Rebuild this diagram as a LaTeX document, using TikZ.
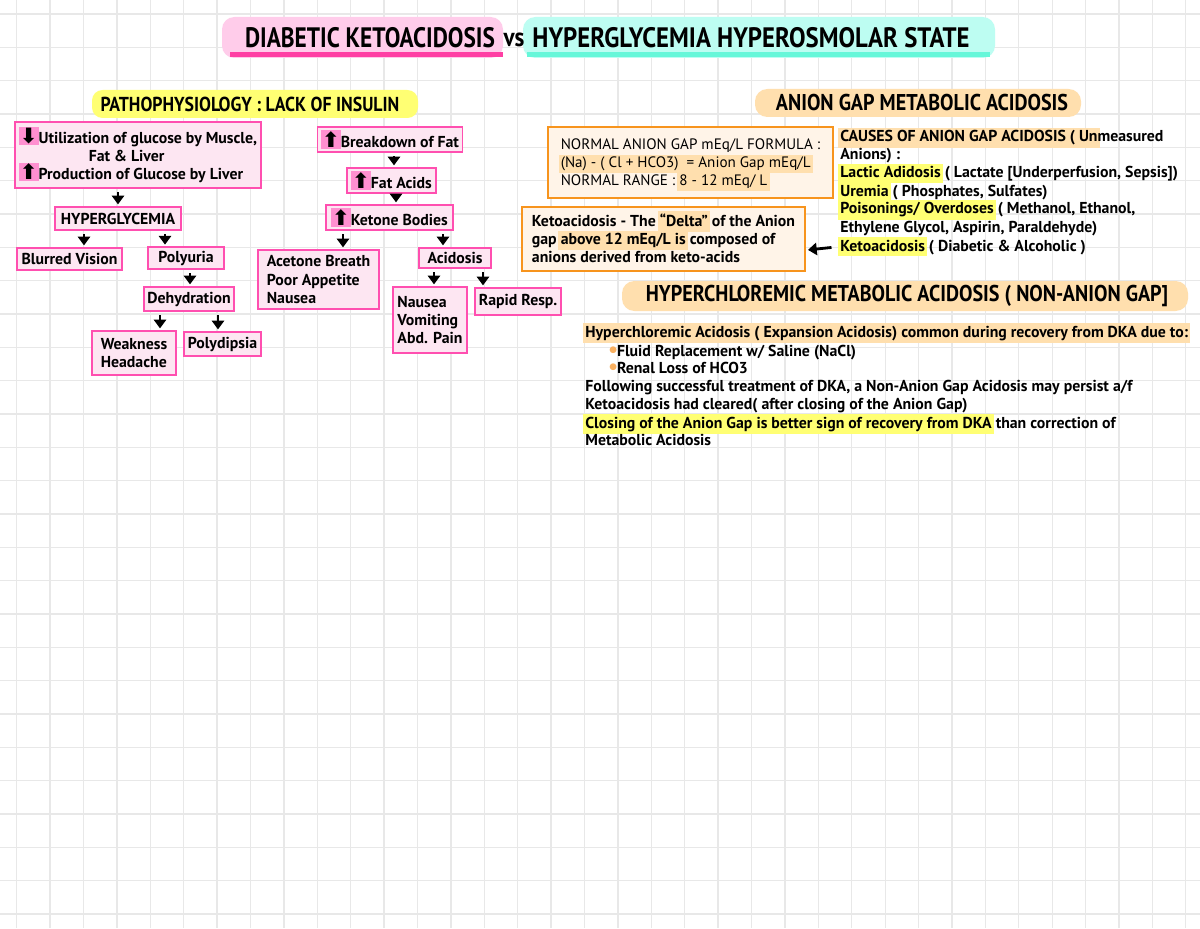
\documentclass[tikz,border=0pt]{standalone}
\usepackage{fontspec}
\setmainfont{PT Sans}
\newfontfamily\headfont{PT Sans}[FakeStretch=0.88]
\newfontfamily\headnarrow{PT Sans}[FakeStretch=0.83]
\newfontfamily\symfont{DejaVu Sans}
\usepackage{xcolor}
\usetikzlibrary{arrows.meta,positioning,calc}

\definecolor{gridc}{HTML}{E8E8E8}
\definecolor{pinkline}{HTML}{FF4FB0}
\definecolor{pinkfill}{HTML}{FDE6F2}
\definecolor{pinkmark}{HTML}{FF8FD0}
\definecolor{pinkhl}{HTML}{FFCCEA}
\definecolor{pinkbar}{HTML}{FF3FA4}
\definecolor{aquahl}{HTML}{BDFDF2}
\definecolor{aquabar}{HTML}{66F7D9}
\definecolor{yelhl}{HTML}{FFFF73}
\definecolor{peach}{HTML}{FFDFAE}
\definecolor{peachfill}{HTML}{FFF4E8}
\definecolor{orangeline}{HTML}{F7941D}
\definecolor{bulletc}{HTML}{F9B060}

\newcommand\boxfont{\fontsize{9}{10.3}\selectfont\bfseries}
\newcommand\hlt[2]{{\setlength{\fboxsep}{1.3pt}\hspace*{-\fboxsep}\smash{\colorbox{#1}{\vphantom{Ap}#2}}\hspace*{-\fboxsep}}}
\newcommand\dnmark{{\setlength{\fboxsep}{0.6pt}\colorbox{pinkmark}{\symfont\bfseries\large ⬇}}}
\newcommand\upmark{{\setlength{\fboxsep}{0.6pt}\colorbox{pinkmark}{\symfont\bfseries\large ⬆}}}
\newcommand\bul{\raisebox{2pt}{\color{bulletc}\symfont\fontsize{5}{5}\selectfont ●}}

\begin{document}
\begin{tikzpicture}[
  x=0.2mm, y=-0.2mm,
  >=Stealth,
  gridline/.style={draw=gridc,line width=0.7pt},
  pbox/.style={draw=pinkline,fill=pinkfill,line width=1pt,inner sep=2pt,align=left,font=\boxfont},
  obox/.style={draw=orangeline,fill=peachfill,line width=1.4pt,inner sep=4pt,align=left,font=\boxfont},
  flow/.style={-{Triangle[length=5pt,width=7pt]},line width=1.6pt,shorten <=2pt,shorten >=1pt},
  head/.style={font=\headfont\bfseries,inner sep=0pt},
  txt/.style={anchor=base west,inner sep=0pt,font=\boxfont},
]
  \useasboundingbox (0,0) rectangle (1200,928);
  \fill[white] (0,0) rectangle (1200,928);
  % grid paper
  \foreach \i in {0,...,35}
    \draw[gridline] (16.7+33.4*\i,0) -- (16.7+33.4*\i,928);
  \foreach \j in {0,...,27}
    \draw[gridline] (0,14+33.33*\j) -- (1200,14+33.33*\j);

  % title
  \fill[pinkhl,rounded corners=7pt] (222,17) rectangle (503,58);
  \fill[pinkbar] (230,52) rectangle (503,57);
  \fill[aquahl,rounded corners=7pt] (523,17) rectangle (995,58);
  \fill[aquabar] (527,52) rectangle (990,57);
  \node[head,font=\headnarrow\bfseries\fontsize{16}{18}\selectfont] (dka) at (370,38) {DIABETIC KETOACIDOSIS};
  \node[head,font=\headfont\bfseries\fontsize{15}{17}\selectfont] (vs) at (514,40) {vs};
  \node[head,font=\headfont\bfseries\fontsize{16}{18}\selectfont] (hhs) at (751,38) {HYPERGLYCEMIA HYPEROSMOLAR STATE};

  % pathophysiology
  \fill[yelhl,rounded corners=6pt] (92,90) rectangle (418,118);
  \node[head,font=\headfont\bfseries\fontsize{11.5}{13}\selectfont] (patho) at (250,104) {PATHOPHYSIOLOGY : LACK OF INSULIN};

  \node[pbox,minimum width=49.2mm,minimum height=13.2mm] (glu) at (138,155)
    {\dnmark Utilization of glucose by Muscle,\\ \hspace*{14mm}Fat \& Liver\\ \upmark Production of Glucose by Liver};
  \node[pbox,minimum width=25.2mm,minimum height=4.6mm] (hyper) at (118,218.5) {HYPERGLYCEMIA};
  \node[pbox,minimum width=21mm,minimum height=4.4mm] (blur) at (69.5,259) {Blurred Vision};
  \node[pbox,minimum width=15.2mm,minimum height=4mm] (poly) at (186,258) {Polyuria};
  \node[pbox,minimum width=18mm,minimum height=4.8mm] (dehyd) at (189,299) {Dehydration};
  \node[pbox,minimum width=16.8mm,minimum height=8.8mm] (weak) at (134,353) {Weakness\\Headache};
  \node[pbox,minimum width=15.4mm,minimum height=4.8mm] (polyd) at (222.5,344) {Polydipsia};

  \node[pbox,minimum width=28.8mm,minimum height=5mm] (fat) at (390,139.5) {\upmark Breakdown of Fat};
  \node[pbox,minimum width=17.8mm,minimum height=4.6mm] (facid) at (391.5,180.5) {\upmark Fat Acids};
  \node[pbox,minimum width=25.4mm,minimum height=4.2mm] (ketone) at (389.5,217.5) {\upmark Ketone Bodies};
  \node[pbox,minimum width=24.2mm,minimum height=11.8mm] (acet) at (318.5,279.5) {Acetone Breath\\Poor Appetite\\Nausea};
  \node[pbox,minimum width=14.4mm,minimum height=4mm] (acid) at (455,258) {Acidosis};
  \node[pbox,minimum width=14.8mm,minimum height=13.2mm] (naus) at (430,320) {Nausea\\Vomiting\\Abd. Pain};
  \node[pbox,minimum width=15.6mm,minimum height=5.4mm] (rapid) at (518,301.5) {Rapid Resp.};

  \draw[flow] (glu.south -| hyper.north) -- (hyper.north);
  \draw[flow] ([xshift=-6.8mm]hyper.south) -- ([xshift=-6.8mm]hyper.south |- blur.north);
  \draw[flow] ([xshift=9.4mm]hyper.south) -- ([xshift=9.4mm]hyper.south |- poly.north);
  \draw[flow] ([xshift=0.8mm]poly.south) -- ([xshift=0.8mm]poly.south |- dehyd.north);
  \draw[flow] ([xshift=-5.8mm]dehyd.south) -- ([xshift=-5.8mm]dehyd.south |- weak.north);
  \draw[flow] ([xshift=5.8mm]dehyd.south) -- ([xshift=5.8mm]dehyd.south |- polyd.north);
  \draw[flow] ([xshift=0.8mm]fat.south) -- ([xshift=0.8mm]fat.south |- facid.north);
  \draw[flow] ([xshift=0.9mm]facid.south) -- ([xshift=0.9mm]facid.south |- ketone.north);
  \draw[flow] ([xshift=-9.3mm]ketone.south) -- ([xshift=-9.3mm]ketone.south |- acet.north);
  \draw[flow] ([xshift=10.7mm]ketone.south) -- ([xshift=10.7mm]ketone.south |- acid.north);
  \draw[flow] ([xshift=-4.2mm]acid.south) -- ([xshift=-4.2mm]acid.south |- naus.north);
  \draw[flow] ([xshift=5.6mm]acid.south) -- ([xshift=5.6mm]acid.south |- rapid.north);

  % anion gap
  \fill[peach,rounded corners=7pt] (755,89) rectangle (1081,117);
  \node[head,font=\headfont\bfseries\fontsize{13}{15}\selectfont] (agma) at (922,103) {ANION GAP METABOLIC ACIDOSIS};

  \node[obox,minimum width=57mm,minimum height=14.2mm,font=\fontsize{8.6}{10.3}\selectfont] (normal) at (690.5,162.5)
    {NORMAL ANION GAP mEq/L FORMULA :\\
     \hlt{peach}{(Na) - ( Cl + HCO3)\ \ = Anion Gap mEq/L}\\
     NORMAL RANGE : \hlt{peach}{8 - 12 mEq/ L}};
  \node[obox,minimum width=56.6mm,minimum height=12.8mm] (keto) at (663.5,239)
    {Ketoacidosis - The \hlt{peach}{“Delta”} of the Anion\\
     gap \hlt{peach}{above 12 mEq/L is} composed of\\
     anions derived from keto-acids};

  \node[txt] (c1) at (840,142) {\hlt{peach}{CAUSES OF ANION GAP ACIDOSIS ( Un}measured};
  \node[txt] (c2) at (840,160) {Anions) :};
  \node[txt] (c3) at (840,178) {\hlt{yelhl}{Lactic Adidosis} ( Lactate [Underperfusion, Sepsis])};
  \node[txt] (c4) at (840,196) {\hlt{yelhl}{Uremia} ( Phosphates, Sulfates)};
  \node[txt] (c5) at (840,214) {\hlt{yelhl}{Poisonings/ Overdoses} ( Methanol, Ethanol,};
  \node[txt] (c6) at (840,232) {Ethylene Glycol, Aspirin, Paraldehyde)};
  \node[txt] (c7) at (840,251) {\hlt{yelhl}{Ketoacidosis} ( Diabetic \& Alcoholic )};
  \draw[flow] ([xshift=-1mm]c7.west) -- ([yshift=-0.6mm]c7.west -| keto.east);

  % hyperchloremic
  \fill[peach,rounded corners=7pt] (622,281) rectangle (1188,311);
  \node[head,font=\headfont\bfseries\fontsize{13}{15}\selectfont] (hcma) at (907,296) {HYPERCHLOREMIC METABOLIC ACIDOSIS ( NON-ANION GAP]};

  \node[txt] (h1) at (585,337) {\hlt{peach}{Hyperchloremic Acidosis ( Expansion Acidosis) common during recovery from DKA due to:}};
  \node[txt] (h2) at (609,356) {\bul Fluid Replacement w/ Saline (NaCl)};
  \node[txt] (h3) at (609,373) {\bul Renal Loss of HCO3};
  \node[txt] (h4) at (585,391) {Following successful treatment of DKA, a Non-Anion Gap Acidosis may persist a/f};
  \node[txt] (h5) at (585,409) {Ketoacidosis had cleared( after closing of the Anion Gap)};
  \node[txt] (h6) at (585,428) {\hlt{yelhl}{Closing of the Anion Gap is better sign of recovery from DKA} than correction of};
  \node[txt] (h7) at (585,445) {Metabolic Acidosis};
\end{tikzpicture}
\end{document}
